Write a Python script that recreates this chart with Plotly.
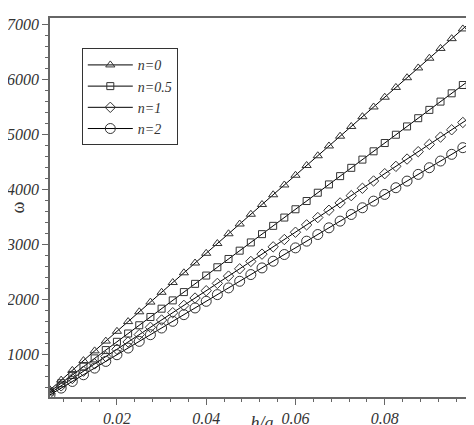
import plotly.graph_objects as go

x = [0.005 + 0.0025 * i for i in range(39)]
n0 = [350,528,705,883,1060,1238,1416,1593,1771,1948,2126,2304,2481,2659,2836,3014,3192,3369,3547,3724,3902,4080,4257,4435,4612,4790,4968,5145,5323,5500,5678,5856,6033,6211,6388,6566,6744,6921,7099]
n05 = [320,471,622,772,923,1074,1225,1376,1526,1677,1828,1979,2130,2280,2431,2582,2733,2884,3034,3185,3336,3487,3638,3788,3939,4090,4241,4392,4542,4693,4844,4995,5146,5296,5447,5598,5749,5900,6050]
n1 = [290,423,556,690,823,956,1089,1222,1356,1489,1622,1755,1888,2022,2155,2288,2421,2554,2688,2821,2954,3087,3220,3354,3487,3620,3753,3886,4020,4153,4286,4419,4552,4686,4819,4952,5085,5218,5352]
n2 = [260,382,503,625,746,868,990,1111,1233,1354,1476,1598,1719,1841,1962,2084,2206,2327,2449,2570,2692,2814,2935,3057,3178,3300,3422,3543,3665,3786,3908,4030,4151,4273,4394,4516,4638,4759,4881]
names = ["n=0", "n=0.5", "n=1", "n=2"]
symbols = ["triangle-up-open", "square-open", "diamond-open", "circle-open"]
sizes = [8, 7, 8, 10]

fig = go.Figure()
for ys, nm, sy, sz in zip([n0, n05, n1, n2], names, symbols, sizes):
    fig.add_trace(go.Scatter(x=x, y=ys, name=nm, mode="lines+markers",
                             line=dict(color="black", width=1),
                             marker=dict(symbol=sy, size=sz, color="#333",
                                         line=dict(width=1))))

serif = "Liberation Serif, Times New Roman, serif"
axis_common = dict(showline=True, linecolor="#666", linewidth=1.5, mirror=True,
                   ticks="outside", ticklen=6, tickcolor="#666", showgrid=False,
                   zeroline=False, automargin=False,
                   tickfont=dict(family=serif, size=16, style="italic", color="#333"))
fig.update_layout(
    width=474, height=425, plot_bgcolor="white", paper_bgcolor="white",
    margin=dict(l=42, r=8, t=10, b=36),
    font=dict(family=serif, color="#333"),
    xaxis=dict(range=[0.005, 0.1], tickvals=[0.02, 0.04, 0.06, 0.08, 0.1],
               ticktext=["0.02", "0.04", "0.06", "0.08", "0.1"],
               minor=dict(dtick=0.004, tick0=0.0, ticks="outside", ticklen=3, tickcolor="#666"),
               title=dict(text="h/a", font=dict(family=serif, size=18, style="italic"), standoff=0),
               **axis_common),
    yaxis=dict(range=[220, 7120], tickvals=[1000, 2000, 3000, 4000, 5000, 6000, 7000],
               minor=dict(dtick=200, ticks="outside", ticklen=3, tickcolor="#666"),
               title=dict(text="ω", font=dict(family=serif, size=18), standoff=0),
               **axis_common),
    legend=dict(x=0.075, y=0.92, xanchor="left", yanchor="top", bordercolor="#333",
                borderwidth=1, bgcolor="white", font=dict(family=serif, size=14, style="italic"),
                tracegroupgap=0, itemwidth=45),
)
fig.write_html("out.html")
